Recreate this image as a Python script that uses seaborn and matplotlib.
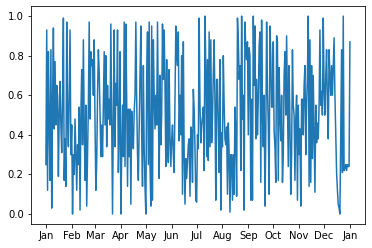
import pandas as pd
import numpy as np
import matplotlib
matplotlib.use("Agg")
import matplotlib.pyplot as plt
import matplotlib.dates as mdates
import seaborn as sns

# one value per day (Jan 1 to Jan 1 of next year)
start_date = "2019-01-01"
values = [
    0.25, 0.93, 0.12, 0.82, 0.45, 0.17, 0.83, 0.03, 0.55, 0.94,
    0.43, 0.77, 0.45, 0.65, 0.60, 0.19, 0.50, 0.67, 0.45, 0.31,
    0.60, 0.99, 0.17, 0.38, 0.14, 0.97, 0.50, 0.34, 0.62, 0.93,
    0.30, 0.45, 0.00, 0.30, 0.20, 0.48, 0.30, 0.12, 0.35, 0.25,
    0.54, 0.02, 0.50, 0.73, 0.35, 0.88, 0.45, 0.17, 0.55, 0.04,
    0.30, 0.55, 0.97, 0.48, 0.82, 0.75, 0.78, 0.60, 0.88, 0.45,
    0.12, 0.26, 0.60, 0.83, 0.72, 0.50, 0.29, 0.45, 0.29, 0.55,
    0.82, 0.45, 0.80, 0.34, 0.65, 0.48, 0.58, 0.45, 0.96, 0.50,
    0.00, 0.50, 0.93, 0.34, 0.66, 0.55, 0.93, 0.21, 0.41, 0.82,
    0.00, 0.30, 0.55, 0.29, 0.97, 0.24, 0.96, 0.58, 0.14, 0.53,
    0.29, 0.53, 0.05, 0.52, 0.41, 0.33, 0.52, 0.60, 0.97, 0.58,
    0.30, 0.17, 0.45, 0.70, 0.95, 0.40, 0.14, 0.75, 0.33, 0.14,
    0.00, 0.70, 0.92, 0.25, 0.97, 0.24, 0.04, 0.95, 0.07, 0.88,
    0.60, 0.43, 0.60, 0.45, 0.97, 0.53, 0.18, 0.70, 0.35, 0.50,
    0.96, 0.68, 0.93, 0.65, 0.24, 0.78, 0.38, 0.26, 0.73, 0.38,
    0.24, 0.38, 0.45, 0.30, 0.21, 0.60, 0.95, 0.80, 0.75, 0.92,
    0.37, 0.60, 0.40, 0.80, 0.10, 0.87, 0.30, 0.05, 0.28, 0.18,
    0.27, 0.35, 0.38, 0.09, 0.44, 0.42, 0.16, 0.63, 0.53, 0.33,
    0.07, 0.06, 0.40, 0.33, 0.99, 0.55, 0.36, 0.45, 0.49, 0.54,
    0.22, 1.00, 0.75, 0.29, 0.78, 0.27, 0.92, 0.34, 0.88, 0.36,
    0.48, 0.71, 0.88, 0.55, 0.07, 0.68, 0.68, 0.41, 0.21, 0.78,
    0.02, 0.41, 0.34, 0.80, 0.55, 0.38, 0.35, 0.44, 0.10, 0.46,
    0.30, 0.01, 0.30, 0.30, 0.07, 0.30, 0.10, 0.54, 0.40, 0.09,
    0.99, 0.88, 0.68, 0.75, 0.22, 1.00, 0.48, 0.60, 0.02, 0.97,
    0.83, 0.78, 0.87, 0.40, 0.84, 0.80, 0.07, 0.58, 0.07, 1.00,
    0.65, 0.95, 0.38, 0.68, 0.40, 0.58, 0.85, 0.92, 0.16, 0.98,
    0.51, 0.34, 0.60, 0.04, 0.40, 0.97, 0.63, 0.45, 0.10, 0.95,
    0.80, 0.54, 0.54, 0.87, 0.42, 0.34, 0.16, 0.90, 0.87, 0.17,
    0.74, 0.50, 0.37, 0.60, 0.16, 0.30, 0.70, 0.82, 0.50, 0.90,
    0.58, 0.24, 0.75, 0.45, 0.10, 0.30, 0.83, 0.55, 0.50, 0.17,
    0.48, 0.60, 0.07, 0.55, 0.30, 0.43, 0.04, 0.58, 0.58, 0.40,
    0.65, 0.75, 0.30, 0.55, 0.70, 1.00, 0.14, 0.88, 0.16, 0.75,
    0.28, 0.70, 0.40, 0.11, 0.55, 0.36, 0.46, 0.38, 0.55, 0.93,
    0.55, 0.62, 0.50, 0.99, 0.62, 0.50, 0.70, 0.83, 0.55, 0.38,
    0.83, 0.70, 0.60, 0.75, 0.60, 0.75, 0.89, 0.60, 0.40, 0.21,
    0.12, 0.05, 0.03, 0.00, 0.40, 0.83, 0.21, 1.00, 0.22, 0.23,
    0.25, 0.22, 0.25, 0.24, 0.24, 0.87,
]
dates = pd.date_range(start_date, periods=len(values), freq="D")

df = pd.DataFrame({"date": dates, "value": values})

fig = plt.figure(figsize=(372 / 72, 248 / 72), dpi=72)
ax = fig.add_axes([0.0825, 0.097, 0.899, 0.878])
sns.lineplot(data=df, x="date", y="value", ax=ax, color="#1f77b4", linewidth=1.5)

ax.xaxis.set_major_locator(mdates.MonthLocator())
ax.xaxis.set_major_formatter(mdates.DateFormatter("%b"))
ax.set_yticks([0.0, 0.2, 0.4, 0.6, 0.8, 1.0])
ax.set_xlabel("")
ax.set_ylabel("")

fig.savefig("out.png", dpi=72)
